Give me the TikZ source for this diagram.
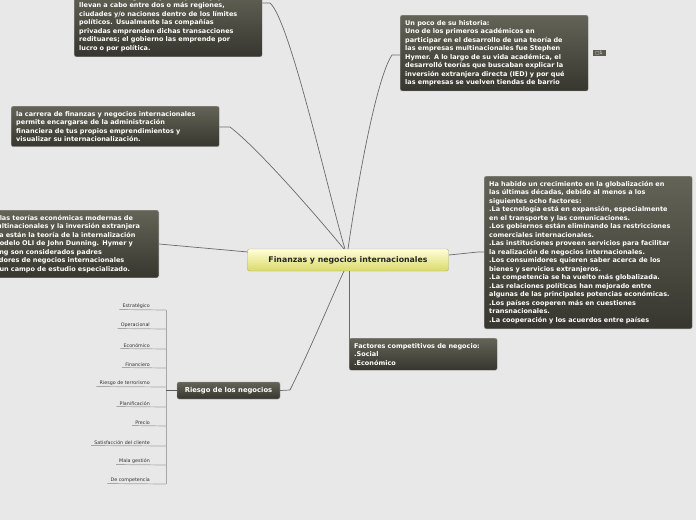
\documentclass[tikz,border=0pt]{standalone}
\usepackage{fontspec}
\setmainfont{DejaVu Sans}
\begin{document}
\begin{tikzpicture}[x=1pt,y=-1pt,
 dbox/.style={rounded corners=2pt,draw=gray!70,text=white,font=\fontsize{6.5}{8.5}\selectfont\bfseries,align=left,inner sep=5pt,anchor=north west},
 conn/.style={draw=gray!70!black!90,line width=0.7pt},
 leaf/.style={font=\fontsize{4.8}{6}\selectfont,text=black!80,anchor=south east,inner sep=1pt}]
\fill[gray!18] (0,0) rectangle (696,520);
\useasboundingbox (0,0) rectangle (696,520);
\definecolor{dk}{HTML}{5C5B4E}
\tikzset{dbox/.append style={top color=dk!95!white,bottom color=dk!60!black}}
% center
\node[rounded corners=2pt,top color=yellow!15!white,bottom color=yellow!35!olive!45!white,draw=yellow!30!gray,minimum width=201pt,minimum height=22pt,font=\fontsize{7.8}{9}\selectfont\bfseries,text=black!85] (c) at (348,260) {Finanzas y negocios internacionales};
% boxes
\node[dbox,text width=178pt] (a) at (74,-11) {inversiones, logística y transporte, y que se\\llevan a cabo entre dos o más regiones,\\ciudades y/o naciones dentro de los límites\\políticos. Usualmente las compañías\\privadas emprenden dichas transacciones\\redituares; el gobierno las emprende por\\lucro o por política.};
\node[dbox,text width=198pt] (b) at (11,106) {la carrera de finanzas y negocios internacionales\\permite encargarse de la administración\\financiera de tus propios emprendimientos y\\visualizar su internacionalización.};
\node[dbox,text width=176pt,anchor=north east] (d) at (159,210) {Entre las teorías económicas modernas de\\las multinacionales y la inversión extranjera\\directa están la teoría de la internalización\\y el modelo OLI de John Dunning. Hymer y\\Dunning son considerados padres\\fundadores de negocios internacionales\\como un campo de estudio especializado.};
\node[dbox,text width=178pt] (e) at (400,15) {Un poco de su historia:\\Uno de los primeros académicos en\\participar en el desarrollo de una teoría de\\las empresas multinacionales fue Stephen\\Hymer. A lo largo de su vida académica, el\\desarrolló teorías que buscaban explicar la\\inversión extranjera directa (IED) y por qué\\las empresas se vuelven tiendas de barrio};
\node[fill=dk,text=white,font=\fontsize{4.5}{5}\selectfont,inner sep=1pt,minimum width=13pt] (ic) at (599,53) {□1};
\node[dbox,text width=198pt] (f) at (484,176) {Ha habido un crecimiento en la globalización en\\las últimas décadas, debido al menos a los\\siguientes ocho factores:\\.La tecnología está en expansión, especialmente\\en el transporte y las comunicaciones.\\.Los gobiernos están eliminando las restricciones\\comerciales internacionales.\\.Las instituciones proveen servicios para facilitar\\la realización de negocios internacionales.\\.Los consumidores quieren saber acerca de los\\bienes y servicios extranjeros.\\.La competencia se ha vuelto más globalizada.\\.Las relaciones políticas han mejorado entre\\algunas de las principales potencias económicas.\\.Los países cooperen más en cuestiones\\transnacionales.\\.La cooperación y los acuerdos entre países};
\node[dbox,text width=138pt] (g) at (349,338) {Factores competitivos de negocio:\\.Social\\.Económico};
\node[dbox,anchor=center,minimum width=103pt,minimum height=17pt,font=\fontsize{6.8}{8}\selectfont\bfseries,align=center] (r) at (228.5,390.5) {Riesgo de los negocios};
% connectors
\draw[conn] (a.east|-0,3) -- (270,3) .. controls (290,20) and (330,200) .. (345,249);
\draw[conn] (b.east|-0,127) -- (230,127) .. controls (260,150) and (320,220) .. (344,249);
\draw[conn] (d.east|-0,244) -- (248,252);
\draw[conn] (e.west|-0,55) -- (392,55) .. controls (375,80) and (355,200) .. (348,249);
\draw[conn] (f.west|-0,252) -- (478,252) -- (449,255);
\draw[conn] (g.west|-0,355) -- (349,271);
\draw[conn] (r.east) -- (290,390) .. controls (310,350) and (335,290) .. (344,271);
% leaves
\coordinate (v0) at (166,310);
\coordinate (v1) at (166,484);
\draw[gray!70,line width=0.7pt] (v0) -- (v1);
\draw[gray!70!black,line width=0.7pt] (r.west) -- (166,390.5);
\foreach \y/\t in {310/Estratégico,329/Operacional,349/Económico,368/Financiero,387/Riesgo de terrorismo,407/Planificación,426/Precio,446/Satisfacción del cliente,465/Mala gestión,484/De competencia}{
 \node[leaf] (l\y) at (151,\y-0.5) {\t};
 \draw[gray!70,line width=0.7pt] ([xshift=-2pt]l\y.south west) -- (166,\y);
}
\end{tikzpicture}
\end{document}
